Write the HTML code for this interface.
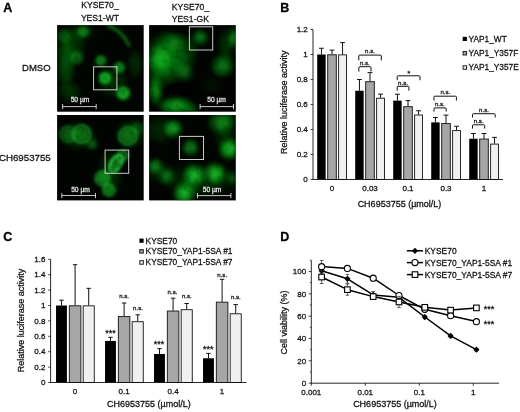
<!DOCTYPE html>
<html><head><meta charset="utf-8"><title>Figure</title>
<style>
html,body{margin:0;padding:0;background:#fff;}
svg{display:block;font-family:'Liberation Sans', Arial, sans-serif;}
</style></head><body>
<svg width="520" height="412" viewBox="0 0 520 412">
<rect width="520" height="412" fill="#fff"/>
<text x="3.20" y="11.50" font-size="12.5" text-anchor="start" font-weight="bold" fill="#000" stroke="#000" stroke-width="0.3" >A</text>
<text x="280.20" y="11.50" font-size="12.5" text-anchor="start" font-weight="bold" fill="#000" stroke="#000" stroke-width="0.3" >B</text>
<text x="3.20" y="241.00" font-size="12.5" text-anchor="start" font-weight="bold" fill="#000" stroke="#000" stroke-width="0.3" >C</text>
<text x="280.20" y="240.80" font-size="12.5" text-anchor="start" font-weight="bold" fill="#000" stroke="#000" stroke-width="0.3" >D</text>
<text x="100.00" y="8.20" font-size="8.65" text-anchor="middle" font-weight="normal" fill="#111" stroke="#111" stroke-width="0.26" >KYSE70_</text>
<text x="100.00" y="20.70" font-size="8.6" text-anchor="middle" font-weight="normal" fill="#111" stroke="#111" stroke-width="0.26" >YES1-WT</text>
<text x="190.50" y="9.60" font-size="8.65" text-anchor="middle" font-weight="normal" fill="#111" stroke="#111" stroke-width="0.26" >KYSE70_</text>
<text x="190.30" y="22.30" font-size="8.6" text-anchor="middle" font-weight="normal" fill="#111" stroke="#111" stroke-width="0.26" >YES1-GK</text>
<text x="50.60" y="71.40" font-size="9.5" text-anchor="end" font-weight="normal" fill="#111" stroke="#111" stroke-width="0.26" >DMSO</text>
<text x="50.70" y="160.80" font-size="9.7" text-anchor="end" font-weight="normal" fill="#111" stroke="#111" stroke-width="0.26" >CH6953755</text>
<defs>
<radialGradient id="gh"><stop offset="0" stop-color="#069410" stop-opacity="1"/><stop offset="0.5" stop-color="#048a0c" stop-opacity="0.7"/><stop offset="1" stop-color="#006c06" stop-opacity="0"/></radialGradient>
<radialGradient id="gc"><stop offset="0" stop-color="#12bc22" stop-opacity="0.95"/><stop offset="0.4" stop-color="#16c428" stop-opacity="1"/><stop offset="0.7" stop-color="#08a014" stop-opacity="0.7"/><stop offset="1" stop-color="#007a08" stop-opacity="0"/></radialGradient>
<radialGradient id="gs"><stop offset="0" stop-color="#1ccc30" stop-opacity="1"/><stop offset="0.35" stop-color="#12b822" stop-opacity="0.9"/><stop offset="0.7" stop-color="#08980f" stop-opacity="0.5"/><stop offset="1" stop-color="#007a08" stop-opacity="0"/></radialGradient>
<radialGradient id="gd"><stop offset="0" stop-color="#000" stop-opacity="1"/><stop offset="0.5" stop-color="#000" stop-opacity="0.8"/><stop offset="1" stop-color="#000" stop-opacity="0"/></radialGradient>
<filter id="bl" x="-20%" y="-20%" width="140%" height="140%"><feGaussianBlur stdDeviation="0.8"/></filter>
<filter id="tex" x="0" y="0" width="100%" height="100%"><feTurbulence type="fractalNoise" baseFrequency="0.16" numOctaves="2" seed="3" result="n"/><feColorMatrix in="n" type="matrix" values="0 0 0 0 1  0 0 0 0 1  0 0 0 0 1  0.7 0 0 0 0.65" result="m"/><feGaussianBlur in="SourceGraphic" stdDeviation="1.0" result="b"/><feComposite in="b" in2="m" operator="in"/></filter>
<clipPath id="cp1"><rect x="57.1" y="25.1" width="86.60" height="86.60"/></clipPath>
<clipPath id="cp2"><rect x="149.1" y="25.1" width="86.70" height="86.60"/></clipPath>
<clipPath id="cp3"><rect x="57.1" y="115.0" width="86.60" height="85.40"/></clipPath>
<clipPath id="cp4"><rect x="149.1" y="115.0" width="86.70" height="85.40"/></clipPath>
</defs>
<rect x="57.10" y="25.10" width="86.60" height="86.60" fill="#010401" stroke="none" stroke-width="0.7" />
<g clip-path="url(#cp1)">
<g filter="url(#tex)">
<ellipse cx="66" cy="60" rx="11.0" ry="36.0" fill="url(#gh)" opacity="0.55"/>
<ellipse cx="74" cy="45" rx="14.0" ry="18.0" fill="url(#gh)" opacity="0.3"/>
<ellipse cx="80" cy="33" rx="18.0" ry="10.0" fill="url(#gh)" opacity="0.3"/>
<ellipse cx="135" cy="64" rx="9.0" ry="17.0" fill="url(#gh)" opacity="0.3"/>
<ellipse cx="113" cy="82" rx="17.0" ry="19.0" fill="url(#gh)" opacity="0.3"/>
<ellipse cx="70" cy="92" rx="14.0" ry="12.0" fill="url(#gh)" opacity="0.3"/>
<ellipse cx="83.2" cy="31.5" rx="7.8" ry="7.2" fill="url(#gc)" opacity="0.5"/>
<ellipse cx="63.5" cy="36" rx="8.4" ry="8.4" fill="url(#gc)" opacity="0.3"/>
<ellipse cx="76.5" cy="57.5" rx="9.0" ry="9.0" fill="url(#gc)" opacity="0.42"/>
<ellipse cx="100.8" cy="60.6" rx="7.4" ry="7.2" fill="url(#gc)" opacity="0.62"/>
<ellipse cx="105" cy="78" rx="8.6" ry="8.6" fill="url(#gc)" opacity="0.75"/>
<ellipse cx="119.4" cy="67.5" rx="7.6" ry="7.6" fill="url(#gc)" opacity="0.62"/>
<ellipse cx="123.2" cy="93.2" rx="9.1" ry="9.1" fill="url(#gc)" opacity="0.78"/>
<ellipse cx="105" cy="78" rx="4.6" ry="4.6" fill="none" stroke="#38e050" stroke-width="1.5" opacity="0.3"/>
<ellipse cx="123.2" cy="93.2" rx="5.0" ry="5.0" fill="none" stroke="#38e050" stroke-width="1.5" opacity="0.25"/>
<path d="M109,26 Q122,31 129,45" stroke="#0c9c1c" stroke-width="3.6" stroke-linecap="round" fill="none" opacity="0.6" filter="url(#bl)"/>
</g>
<rect x="93.60" y="66.80" width="23.30" height="23.00" fill="none" stroke="#cacaca" stroke-width="1.0" />
<line x1="62.60" y1="106.60" x2="96.20" y2="106.60" stroke="#dcdcdc" stroke-width="0.9" />
<line x1="62.60" y1="104.00" x2="62.60" y2="109.20" stroke="#dcdcdc" stroke-width="0.9" />
<line x1="96.20" y1="104.00" x2="96.20" y2="109.20" stroke="#dcdcdc" stroke-width="0.9" />
<text x="80.00" y="102.10" font-size="6.7" text-anchor="middle" font-weight="normal" fill="#e4e4e4" stroke="#e4e4e4" stroke-width="0.26" >50 µm</text>
</g>
<rect x="149.10" y="25.10" width="86.70" height="86.60" fill="#010401" stroke="none" stroke-width="0.7" />
<g clip-path="url(#cp2)">
<g filter="url(#tex)">
<ellipse cx="165" cy="60" rx="22.0" ry="30.0" fill="url(#gh)" opacity="0.85"/>
<ellipse cx="180" cy="62" rx="12.0" ry="14.0" fill="url(#gh)" opacity="0.4"/>
<ellipse cx="172" cy="40" rx="16.0" ry="10.0" fill="url(#gh)" opacity="0.4"/>
<ellipse cx="226" cy="46" rx="10.0" ry="20.0" fill="url(#gh)" opacity="0.3"/>
<ellipse cx="186" cy="52" rx="14.0" ry="20.0" fill="url(#gh)" opacity="0.4"/>
<ellipse cx="155.5" cy="88" rx="8.0" ry="20.0" fill="url(#gh)" opacity="0.7"/>
<ellipse cx="176" cy="106" rx="21.0" ry="10.0" fill="url(#gh)" opacity="0.75"/>
<ellipse cx="222" cy="66" rx="14.0" ry="13.0" fill="url(#gh)" opacity="0.35"/>
<ellipse cx="200" cy="38" rx="12.0" ry="10.0" fill="url(#gh)" opacity="0.25"/>
<ellipse cx="212" cy="85" rx="12.0" ry="10.0" fill="url(#gh)" opacity="0.1"/>
<ellipse cx="161" cy="59" rx="14.9" ry="17.6" fill="url(#gs)" opacity="0.7"/>
<ellipse cx="175" cy="45" rx="12.2" ry="12.2" fill="url(#gs)" opacity="0.4"/>
<ellipse cx="184" cy="72" rx="11.5" ry="10.8" fill="url(#gs)" opacity="0.45"/>
<ellipse cx="176" cy="105" rx="17.6" ry="10.1" fill="url(#gs)" opacity="0.45"/>
<ellipse cx="156" cy="92" rx="8.8" ry="13.5" fill="url(#gs)" opacity="0.3"/>
<ellipse cx="200.3" cy="37.3" rx="8.8" ry="8.8" fill="url(#gs)" opacity="0.45"/>
<ellipse cx="223" cy="66" rx="12.8" ry="12.8" fill="url(#gs)" opacity="0.4"/>
<ellipse cx="233.5" cy="38" rx="8.1" ry="12.2" fill="url(#gs)" opacity="0.5"/>
<ellipse cx="191" cy="109" rx="9.5" ry="6.8" fill="url(#gs)" opacity="0.3"/>
<ellipse cx="176" cy="88" rx="13.0" ry="8.0" fill="url(#gd)" opacity="0.85"/>
<ellipse cx="186" cy="90" rx="10.0" ry="9.0" fill="url(#gd)" opacity="0.8"/>
<ellipse cx="160" cy="28" rx="14.0" ry="5.0" fill="url(#gd)" opacity="0.6"/>
</g>
<rect x="189.40" y="26.80" width="23.30" height="23.20" fill="none" stroke="#cacaca" stroke-width="1.0" />
<line x1="200.10" y1="106.60" x2="233.50" y2="106.60" stroke="#dcdcdc" stroke-width="0.9" />
<line x1="200.10" y1="104.00" x2="200.10" y2="109.20" stroke="#dcdcdc" stroke-width="0.9" />
<line x1="233.50" y1="104.00" x2="233.50" y2="109.20" stroke="#dcdcdc" stroke-width="0.9" />
<text x="216.60" y="102.10" font-size="6.7" text-anchor="middle" font-weight="normal" fill="#e4e4e4" stroke="#e4e4e4" stroke-width="0.26" >50 µm</text>
</g>
<rect x="57.10" y="115.00" width="86.60" height="85.40" fill="#010401" stroke="none" stroke-width="0.7" />
<g clip-path="url(#cp3)">
<g filter="url(#tex)">
<ellipse cx="78" cy="136" rx="21.0" ry="16.0" fill="url(#gh)" opacity="0.38"/>
<ellipse cx="130" cy="134" rx="17.0" ry="16.0" fill="url(#gh)" opacity="0.38"/>
<ellipse cx="110" cy="173" rx="14.0" ry="25.0" fill="url(#gh)" opacity="0.35"/>
<ellipse cx="68" cy="134" rx="10.8" ry="10.8" fill="url(#gc)" opacity="0.35"/>
<ellipse cx="81.5" cy="134" rx="12.0" ry="12.0" fill="url(#gc)" opacity="0.42"/>
<ellipse cx="92" cy="144" rx="7.2" ry="7.2" fill="url(#gc)" opacity="0.35"/>
<ellipse cx="128" cy="136" rx="12.6" ry="12.6" fill="url(#gc)" opacity="0.42"/>
<ellipse cx="138" cy="128" rx="8.4" ry="8.4" fill="url(#gc)" opacity="0.3"/>
<ellipse cx="116" cy="163" rx="9.0" ry="13.2" transform="rotate(30 116 163)" fill="url(#gc)" opacity="0.6"/>
<ellipse cx="124" cy="155" rx="7.2" ry="7.2" fill="url(#gc)" opacity="0.4"/>
<ellipse cx="102.5" cy="178.3" rx="10.2" ry="10.2" fill="url(#gc)" opacity="0.62"/>
<ellipse cx="109" cy="190" rx="9.0" ry="9.0" fill="url(#gc)" opacity="0.55"/>
<ellipse cx="68" cy="134" rx="8.0" ry="8.0" fill="none" stroke="#38e050" stroke-width="1.5" opacity="0.25"/>
<ellipse cx="81.5" cy="134" rx="9.0" ry="9.0" fill="none" stroke="#38e050" stroke-width="1.5" opacity="0.4"/>
<ellipse cx="128" cy="136" rx="9.0" ry="9.0" fill="none" stroke="#38e050" stroke-width="1.5" opacity="0.35"/>
<ellipse cx="116" cy="163.5" rx="5.2" ry="9.5" transform="rotate(32 116 163.5)" fill="none" stroke="#38e050" stroke-width="1.5" opacity="0.85"/>
<ellipse cx="102.5" cy="178.3" rx="7.0" ry="7.0" fill="none" stroke="#38e050" stroke-width="1.5" opacity="0.35"/>
<ellipse cx="109" cy="190" rx="6.0" ry="6.0" fill="none" stroke="#38e050" stroke-width="1.5" opacity="0.3"/>
<ellipse cx="122" cy="156" rx="5.0" ry="6.0" transform="rotate(30 122 156)" fill="none" stroke="#38e050" stroke-width="1.5" opacity="0.4"/>
</g>
<rect x="105.10" y="150.10" width="23.60" height="23.20" fill="none" stroke="#cacaca" stroke-width="1.0" />
<line x1="61.80" y1="195.50" x2="95.50" y2="195.50" stroke="#dcdcdc" stroke-width="0.9" />
<line x1="61.80" y1="192.90" x2="61.80" y2="198.10" stroke="#dcdcdc" stroke-width="0.9" />
<line x1="95.50" y1="192.90" x2="95.50" y2="198.10" stroke="#dcdcdc" stroke-width="0.9" />
<text x="80.50" y="191.60" font-size="6.7" text-anchor="middle" font-weight="normal" fill="#e4e4e4" stroke="#e4e4e4" stroke-width="0.26" >50 µm</text>
</g>
<rect x="149.10" y="115.00" width="86.70" height="85.40" fill="#010401" stroke="none" stroke-width="0.7" />
<g clip-path="url(#cp4)">
<g filter="url(#tex)">
<ellipse cx="160" cy="130" rx="17.0" ry="17.0" fill="url(#gh)" opacity="0.25"/>
<ellipse cx="200" cy="180" rx="42.0" ry="19.0" fill="url(#gh)" opacity="0.32"/>
<ellipse cx="225" cy="135" rx="12.0" ry="27.0" fill="url(#gh)" opacity="0.28"/>
<ellipse cx="160" cy="172" rx="15.0" ry="13.0" fill="url(#gh)" opacity="0.25"/>
<ellipse cx="190" cy="185" rx="10.0" ry="12.0" fill="url(#gh)" opacity="0.4"/>
<ellipse cx="228" cy="120" rx="10.0" ry="10.0" fill="url(#gh)" opacity="0.3"/>
<ellipse cx="173" cy="128.6" rx="11.5" ry="10.8" fill="url(#gs)" opacity="0.75"/>
<ellipse cx="190.5" cy="147.5" rx="10.1" ry="10.1" fill="url(#gs)" opacity="0.62"/>
<ellipse cx="220.5" cy="122.5" rx="14.9" ry="13.5" fill="url(#gs)" opacity="0.55"/>
<ellipse cx="229.6" cy="149" rx="12.2" ry="12.8" fill="url(#gs)" opacity="0.85"/>
<ellipse cx="155.2" cy="166.1" rx="9.5" ry="9.5" fill="url(#gs)" opacity="0.55"/>
<ellipse cx="166.8" cy="176.4" rx="10.1" ry="10.1" fill="url(#gs)" opacity="0.45"/>
<ellipse cx="194.2" cy="175.3" rx="12.8" ry="12.8" fill="url(#gs)" opacity="0.85"/>
<ellipse cx="215" cy="173.6" rx="12.8" ry="12.8" fill="url(#gs)" opacity="0.85"/>
<ellipse cx="184.2" cy="193.4" rx="12.8" ry="12.8" fill="url(#gs)" opacity="0.85"/>
<ellipse cx="232" cy="178" rx="8.8" ry="8.8" fill="url(#gs)" opacity="0.3"/>
</g>
<rect x="179.40" y="136.40" width="24.10" height="23.10" fill="none" stroke="#cacaca" stroke-width="1.0" />
<line x1="197.50" y1="195.60" x2="230.90" y2="195.60" stroke="#dcdcdc" stroke-width="0.9" />
<line x1="197.50" y1="193.00" x2="197.50" y2="198.20" stroke="#dcdcdc" stroke-width="0.9" />
<line x1="230.90" y1="193.00" x2="230.90" y2="198.20" stroke="#dcdcdc" stroke-width="0.9" />
<text x="212.10" y="191.60" font-size="6.7" text-anchor="middle" font-weight="normal" fill="#e4e4e4" stroke="#e4e4e4" stroke-width="0.26" >50 µm</text>
</g>
<line x1="321.44" y1="54.50" x2="321.44" y2="48.25" stroke="#111" stroke-width="1.0" />
<line x1="319.04" y1="48.25" x2="323.84" y2="48.25" stroke="#111" stroke-width="1.0" />
<rect x="317.22" y="54.50" width="8.44" height="125.00" fill="#000" stroke="none" stroke-width="0.7" />
<line x1="332.00" y1="54.50" x2="332.00" y2="50.12" stroke="#111" stroke-width="1.0" />
<line x1="329.60" y1="50.12" x2="334.40" y2="50.12" stroke="#111" stroke-width="1.0" />
<rect x="327.68" y="54.80" width="8.64" height="124.70" fill="#a6a6a6" stroke="#222" stroke-width="1.0" />
<line x1="342.56" y1="54.50" x2="342.56" y2="42.62" stroke="#111" stroke-width="1.0" />
<line x1="340.16" y1="42.62" x2="344.96" y2="42.62" stroke="#111" stroke-width="1.0" />
<rect x="338.63" y="54.85" width="7.84" height="124.65" fill="#f0f0f0" stroke="#111" stroke-width="0.9" />
<line x1="359.44" y1="90.75" x2="359.44" y2="79.50" stroke="#111" stroke-width="1.0" />
<line x1="357.04" y1="79.50" x2="361.84" y2="79.50" stroke="#111" stroke-width="1.0" />
<rect x="355.22" y="90.75" width="8.44" height="88.75" fill="#000" stroke="none" stroke-width="0.7" />
<line x1="370.00" y1="81.38" x2="370.00" y2="72.62" stroke="#111" stroke-width="1.0" />
<line x1="367.60" y1="72.62" x2="372.40" y2="72.62" stroke="#111" stroke-width="1.0" />
<rect x="365.68" y="81.67" width="8.64" height="97.83" fill="#a6a6a6" stroke="#222" stroke-width="1.0" />
<line x1="380.56" y1="97.88" x2="380.56" y2="94.12" stroke="#111" stroke-width="1.0" />
<line x1="378.16" y1="94.12" x2="382.96" y2="94.12" stroke="#111" stroke-width="1.0" />
<rect x="376.63" y="98.22" width="7.84" height="81.28" fill="#f0f0f0" stroke="#111" stroke-width="0.9" />
<line x1="397.44" y1="100.62" x2="397.44" y2="94.25" stroke="#111" stroke-width="1.0" />
<line x1="395.04" y1="94.25" x2="399.84" y2="94.25" stroke="#111" stroke-width="1.0" />
<rect x="393.22" y="100.62" width="8.44" height="78.88" fill="#000" stroke="none" stroke-width="0.7" />
<line x1="408.00" y1="106.38" x2="408.00" y2="100.62" stroke="#111" stroke-width="1.0" />
<line x1="405.60" y1="100.62" x2="410.40" y2="100.62" stroke="#111" stroke-width="1.0" />
<rect x="403.68" y="106.67" width="8.64" height="72.83" fill="#a6a6a6" stroke="#222" stroke-width="1.0" />
<line x1="418.56" y1="114.62" x2="418.56" y2="110.75" stroke="#111" stroke-width="1.0" />
<line x1="416.16" y1="110.75" x2="420.96" y2="110.75" stroke="#111" stroke-width="1.0" />
<rect x="414.63" y="114.97" width="7.84" height="64.53" fill="#f0f0f0" stroke="#111" stroke-width="0.9" />
<line x1="435.44" y1="122.38" x2="435.44" y2="117.50" stroke="#111" stroke-width="1.0" />
<line x1="433.04" y1="117.50" x2="437.84" y2="117.50" stroke="#111" stroke-width="1.0" />
<rect x="431.22" y="122.38" width="8.44" height="57.12" fill="#000" stroke="none" stroke-width="0.7" />
<line x1="446.00" y1="123.25" x2="446.00" y2="115.12" stroke="#111" stroke-width="1.0" />
<line x1="443.60" y1="115.12" x2="448.40" y2="115.12" stroke="#111" stroke-width="1.0" />
<rect x="441.68" y="123.55" width="8.64" height="55.95" fill="#a6a6a6" stroke="#222" stroke-width="1.0" />
<line x1="456.56" y1="130.25" x2="456.56" y2="126.25" stroke="#111" stroke-width="1.0" />
<line x1="454.16" y1="126.25" x2="458.96" y2="126.25" stroke="#111" stroke-width="1.0" />
<rect x="452.63" y="130.60" width="7.84" height="48.90" fill="#f0f0f0" stroke="#111" stroke-width="0.9" />
<line x1="473.44" y1="138.75" x2="473.44" y2="133.50" stroke="#111" stroke-width="1.0" />
<line x1="471.04" y1="133.50" x2="475.84" y2="133.50" stroke="#111" stroke-width="1.0" />
<rect x="469.22" y="138.75" width="8.44" height="40.75" fill="#000" stroke="none" stroke-width="0.7" />
<line x1="484.00" y1="138.75" x2="484.00" y2="133.50" stroke="#111" stroke-width="1.0" />
<line x1="481.60" y1="133.50" x2="486.40" y2="133.50" stroke="#111" stroke-width="1.0" />
<rect x="479.68" y="139.05" width="8.64" height="40.45" fill="#a6a6a6" stroke="#222" stroke-width="1.0" />
<line x1="494.56" y1="143.75" x2="494.56" y2="137.38" stroke="#111" stroke-width="1.0" />
<line x1="492.16" y1="137.38" x2="496.96" y2="137.38" stroke="#111" stroke-width="1.0" />
<rect x="490.63" y="144.10" width="7.84" height="35.40" fill="#f0f0f0" stroke="#111" stroke-width="0.9" />
<line x1="313.00" y1="29.50" x2="313.00" y2="179.50" stroke="#111" stroke-width="0.9" />
<line x1="312.60" y1="179.50" x2="503.00" y2="179.50" stroke="#111" stroke-width="0.9" />
<line x1="310.60" y1="179.50" x2="313.00" y2="179.50" stroke="#111" stroke-width="0.8" />
<text x="307.80" y="182.20" font-size="8.0" text-anchor="end" font-weight="normal" fill="#111" stroke="#111" stroke-width="0.26" >0</text>
<line x1="310.60" y1="154.50" x2="313.00" y2="154.50" stroke="#111" stroke-width="0.8" />
<text x="307.80" y="157.20" font-size="8.0" text-anchor="end" font-weight="normal" fill="#111" stroke="#111" stroke-width="0.26" >0.2</text>
<line x1="310.60" y1="129.50" x2="313.00" y2="129.50" stroke="#111" stroke-width="0.8" />
<text x="307.80" y="132.20" font-size="8.0" text-anchor="end" font-weight="normal" fill="#111" stroke="#111" stroke-width="0.26" >0.4</text>
<line x1="310.60" y1="104.50" x2="313.00" y2="104.50" stroke="#111" stroke-width="0.8" />
<text x="307.80" y="107.20" font-size="8.0" text-anchor="end" font-weight="normal" fill="#111" stroke="#111" stroke-width="0.26" >0.6</text>
<line x1="310.60" y1="79.50" x2="313.00" y2="79.50" stroke="#111" stroke-width="0.8" />
<text x="307.80" y="82.20" font-size="8.0" text-anchor="end" font-weight="normal" fill="#111" stroke="#111" stroke-width="0.26" >0.8</text>
<line x1="310.60" y1="54.50" x2="313.00" y2="54.50" stroke="#111" stroke-width="0.8" />
<text x="307.80" y="57.20" font-size="8.0" text-anchor="end" font-weight="normal" fill="#111" stroke="#111" stroke-width="0.26" >1</text>
<line x1="310.60" y1="29.50" x2="313.00" y2="29.50" stroke="#111" stroke-width="0.8" />
<text x="307.80" y="32.20" font-size="8.0" text-anchor="end" font-weight="normal" fill="#111" stroke="#111" stroke-width="0.26" >1.2</text>
<text x="332.00" y="191.20" font-size="8.0" text-anchor="middle" font-weight="normal" fill="#111" stroke="#111" stroke-width="0.26" >0</text>
<text x="370.00" y="191.20" font-size="8.0" text-anchor="middle" font-weight="normal" fill="#111" stroke="#111" stroke-width="0.26" >0.03</text>
<text x="408.00" y="191.20" font-size="8.0" text-anchor="middle" font-weight="normal" fill="#111" stroke="#111" stroke-width="0.26" >0.1</text>
<text x="446.00" y="191.20" font-size="8.0" text-anchor="middle" font-weight="normal" fill="#111" stroke="#111" stroke-width="0.26" >0.3</text>
<text x="484.00" y="191.20" font-size="8.0" text-anchor="middle" font-weight="normal" fill="#111" stroke="#111" stroke-width="0.26" >1</text>
<path d="M358.80,60.30 V55.90 Q358.80,55.10 359.60,55.10 H380.50 Q381.30,55.10 381.30,55.90 V60.30" fill="none" stroke="#111" stroke-width="1.0"/>
<text x="370.00" y="53.30" font-size="6.1" text-anchor="middle" font-weight="normal" fill="#111" stroke="#111" stroke-width="0.26" >n.s.</text>
<path d="M358.80,71.60 V67.50 Q358.80,66.70 359.60,66.70 H370.20 Q371.00,66.70 371.00,67.50 V71.60" fill="none" stroke="#111" stroke-width="1.0"/>
<text x="364.80" y="64.80" font-size="6.1" text-anchor="middle" font-weight="normal" fill="#111" stroke="#111" stroke-width="0.26" >n.s.</text>
<path d="M397.20,80.20 V76.60 Q397.20,75.80 398.00,75.80 H419.20 Q420.00,75.80 420.00,76.60 V80.20" fill="none" stroke="#111" stroke-width="1.0"/>
<text x="408.90" y="75.50" font-size="8" text-anchor="middle" font-weight="normal" fill="#111" stroke="#111" stroke-width="0.26" >*</text>
<path d="M397.20,90.70 V87.10 Q397.20,86.30 398.00,86.30 H408.10 Q408.90,86.30 408.90,87.10 V90.70" fill="none" stroke="#111" stroke-width="1.0"/>
<text x="403.00" y="84.60" font-size="6.1" text-anchor="middle" font-weight="normal" fill="#111" stroke="#111" stroke-width="0.26" >n.s.</text>
<path d="M434.00,100.60 V97.00 Q434.00,96.20 434.80,96.20 H455.60 Q456.40,96.20 456.40,97.00 V100.60" fill="none" stroke="#111" stroke-width="1.0"/>
<text x="445.30" y="94.30" font-size="6.1" text-anchor="middle" font-weight="normal" fill="#111" stroke="#111" stroke-width="0.26" >n.s.</text>
<path d="M434.00,111.60 V108.70 Q434.00,107.90 434.80,107.90 H445.40 Q446.20,107.90 446.20,108.70 V111.60" fill="none" stroke="#111" stroke-width="1.0"/>
<text x="439.90" y="105.80" font-size="6.1" text-anchor="middle" font-weight="normal" fill="#111" stroke="#111" stroke-width="0.26" >n.s.</text>
<path d="M472.50,117.50 V114.50 Q472.50,113.70 473.30,113.70 H494.40 Q495.20,113.70 495.20,114.50 V117.50" fill="none" stroke="#111" stroke-width="1.0"/>
<text x="484.00" y="111.70" font-size="6.1" text-anchor="middle" font-weight="normal" fill="#111" stroke="#111" stroke-width="0.26" >n.s.</text>
<path d="M472.50,128.60 V125.60 Q472.50,124.80 473.30,124.80 H483.90 Q484.70,124.80 484.70,125.60 V128.60" fill="none" stroke="#111" stroke-width="1.0"/>
<text x="478.70" y="122.80" font-size="6.1" text-anchor="middle" font-weight="normal" fill="#111" stroke="#111" stroke-width="0.26" >n.s.</text>
<rect x="462.70" y="36.80" width="4.20" height="4.20" fill="#000" stroke="none" stroke-width="0.7" />
<text x="468.60" y="41.80" font-size="8.3" text-anchor="start" font-weight="normal" fill="#111" stroke="#111" stroke-width="0.26" >YAP1_WT</text>
<rect x="463.10" y="51.50" width="3.50" height="3.50" fill="#a6a6a6" stroke="#222" stroke-width="1.0" />
<text x="468.60" y="56.10" font-size="8.3" text-anchor="start" font-weight="normal" fill="#111" stroke="#111" stroke-width="0.26" >YAP1_Y357F</text>
<rect x="463.10" y="65.80" width="3.50" height="3.50" fill="#f0f0f0" stroke="#222" stroke-width="1.0" />
<text x="468.60" y="70.40" font-size="8.3" text-anchor="start" font-weight="normal" fill="#111" stroke="#111" stroke-width="0.26" >YAP1_Y357E</text>
<text x="0.00" y="0.00" font-size="9.0" text-anchor="middle" font-weight="normal" fill="#111" stroke="#111" stroke-width="0.26" transform="translate(287.3,102.2) rotate(-90)">Relative luciferase activity</text>
<text x="399.50" y="206.70" font-size="9.0" text-anchor="middle" font-weight="normal" fill="#111" stroke="#111" stroke-width="0.26" >CH6953755 (µmol/L)</text>
<line x1="61.49" y1="305.50" x2="61.49" y2="300.19" stroke="#111" stroke-width="1.0" />
<line x1="59.29" y1="300.19" x2="63.69" y2="300.19" stroke="#111" stroke-width="1.0" />
<rect x="56.04" y="305.50" width="10.89" height="77.00" fill="#000" stroke="none" stroke-width="0.7" />
<line x1="75.10" y1="305.50" x2="75.10" y2="264.69" stroke="#111" stroke-width="1.0" />
<line x1="72.90" y1="264.69" x2="77.30" y2="264.69" stroke="#111" stroke-width="1.0" />
<rect x="69.36" y="305.80" width="11.49" height="76.70" fill="#a6a6a6" stroke="#222" stroke-width="1.0" />
<line x1="88.71" y1="305.50" x2="88.71" y2="288.33" stroke="#111" stroke-width="1.0" />
<line x1="86.51" y1="288.33" x2="90.91" y2="288.33" stroke="#111" stroke-width="1.0" />
<rect x="83.17" y="305.85" width="11.09" height="76.65" fill="#f0f0f0" stroke="#111" stroke-width="0.9" />
<line x1="110.49" y1="340.92" x2="110.49" y2="337.30" stroke="#111" stroke-width="1.0" />
<line x1="108.29" y1="337.30" x2="112.69" y2="337.30" stroke="#111" stroke-width="1.0" />
<rect x="105.04" y="340.92" width="10.89" height="41.58" fill="#000" stroke="none" stroke-width="0.7" />
<line x1="124.10" y1="316.28" x2="124.10" y2="303.04" stroke="#111" stroke-width="1.0" />
<line x1="121.90" y1="303.04" x2="126.30" y2="303.04" stroke="#111" stroke-width="1.0" />
<rect x="118.36" y="316.58" width="11.49" height="65.92" fill="#a6a6a6" stroke="#222" stroke-width="1.0" />
<line x1="137.71" y1="321.36" x2="137.71" y2="314.82" stroke="#111" stroke-width="1.0" />
<line x1="135.51" y1="314.82" x2="139.91" y2="314.82" stroke="#111" stroke-width="1.0" />
<rect x="132.17" y="321.71" width="11.09" height="60.79" fill="#f0f0f0" stroke="#111" stroke-width="0.9" />
<line x1="159.49" y1="354.01" x2="159.49" y2="348.62" stroke="#111" stroke-width="1.0" />
<line x1="157.29" y1="348.62" x2="161.69" y2="348.62" stroke="#111" stroke-width="1.0" />
<rect x="154.04" y="354.01" width="10.89" height="28.49" fill="#000" stroke="none" stroke-width="0.7" />
<line x1="173.10" y1="310.74" x2="173.10" y2="298.19" stroke="#111" stroke-width="1.0" />
<line x1="170.90" y1="298.19" x2="175.30" y2="298.19" stroke="#111" stroke-width="1.0" />
<rect x="167.36" y="311.04" width="11.49" height="71.46" fill="#a6a6a6" stroke="#222" stroke-width="1.0" />
<line x1="186.71" y1="309.35" x2="186.71" y2="303.50" stroke="#111" stroke-width="1.0" />
<line x1="184.51" y1="303.50" x2="188.91" y2="303.50" stroke="#111" stroke-width="1.0" />
<rect x="181.17" y="309.70" width="11.09" height="72.80" fill="#f0f0f0" stroke="#111" stroke-width="0.9" />
<line x1="208.49" y1="358.25" x2="208.49" y2="353.39" stroke="#111" stroke-width="1.0" />
<line x1="206.29" y1="353.39" x2="210.69" y2="353.39" stroke="#111" stroke-width="1.0" />
<rect x="203.04" y="358.25" width="10.89" height="24.25" fill="#000" stroke="none" stroke-width="0.7" />
<line x1="222.10" y1="301.88" x2="222.10" y2="279.32" stroke="#111" stroke-width="1.0" />
<line x1="219.90" y1="279.32" x2="224.30" y2="279.32" stroke="#111" stroke-width="1.0" />
<rect x="216.36" y="302.18" width="11.49" height="80.32" fill="#a6a6a6" stroke="#222" stroke-width="1.0" />
<line x1="235.71" y1="313.43" x2="235.71" y2="304.58" stroke="#111" stroke-width="1.0" />
<line x1="233.51" y1="304.58" x2="237.91" y2="304.58" stroke="#111" stroke-width="1.0" />
<rect x="230.17" y="313.78" width="11.09" height="68.72" fill="#f0f0f0" stroke="#111" stroke-width="0.9" />
<line x1="50.60" y1="259.30" x2="50.60" y2="382.50" stroke="#111" stroke-width="0.9" />
<line x1="50.20" y1="382.50" x2="246.60" y2="382.50" stroke="#111" stroke-width="0.9" />
<line x1="48.20" y1="382.50" x2="50.60" y2="382.50" stroke="#111" stroke-width="0.8" />
<text x="45.40" y="385.20" font-size="8.0" text-anchor="end" font-weight="normal" fill="#111" stroke="#111" stroke-width="0.26" >0</text>
<line x1="48.20" y1="367.10" x2="50.60" y2="367.10" stroke="#111" stroke-width="0.8" />
<text x="45.40" y="369.80" font-size="8.0" text-anchor="end" font-weight="normal" fill="#111" stroke="#111" stroke-width="0.26" >0.2</text>
<line x1="48.20" y1="351.70" x2="50.60" y2="351.70" stroke="#111" stroke-width="0.8" />
<text x="45.40" y="354.40" font-size="8.0" text-anchor="end" font-weight="normal" fill="#111" stroke="#111" stroke-width="0.26" >0.4</text>
<line x1="48.20" y1="336.30" x2="50.60" y2="336.30" stroke="#111" stroke-width="0.8" />
<text x="45.40" y="339.00" font-size="8.0" text-anchor="end" font-weight="normal" fill="#111" stroke="#111" stroke-width="0.26" >0.6</text>
<line x1="48.20" y1="320.90" x2="50.60" y2="320.90" stroke="#111" stroke-width="0.8" />
<text x="45.40" y="323.60" font-size="8.0" text-anchor="end" font-weight="normal" fill="#111" stroke="#111" stroke-width="0.26" >0.8</text>
<line x1="48.20" y1="305.50" x2="50.60" y2="305.50" stroke="#111" stroke-width="0.8" />
<text x="45.40" y="308.20" font-size="8.0" text-anchor="end" font-weight="normal" fill="#111" stroke="#111" stroke-width="0.26" >1</text>
<line x1="48.20" y1="290.10" x2="50.60" y2="290.10" stroke="#111" stroke-width="0.8" />
<text x="45.40" y="292.80" font-size="8.0" text-anchor="end" font-weight="normal" fill="#111" stroke="#111" stroke-width="0.26" >1.2</text>
<line x1="48.20" y1="274.70" x2="50.60" y2="274.70" stroke="#111" stroke-width="0.8" />
<text x="45.40" y="277.40" font-size="8.0" text-anchor="end" font-weight="normal" fill="#111" stroke="#111" stroke-width="0.26" >1.4</text>
<line x1="48.20" y1="259.30" x2="50.60" y2="259.30" stroke="#111" stroke-width="0.8" />
<text x="45.40" y="262.00" font-size="8.0" text-anchor="end" font-weight="normal" fill="#111" stroke="#111" stroke-width="0.26" >1.6</text>
<text x="75.10" y="393.80" font-size="8.0" text-anchor="middle" font-weight="normal" fill="#111" stroke="#111" stroke-width="0.26" >0</text>
<text x="124.10" y="393.80" font-size="8.0" text-anchor="middle" font-weight="normal" fill="#111" stroke="#111" stroke-width="0.26" >0.1</text>
<text x="173.10" y="393.80" font-size="8.0" text-anchor="middle" font-weight="normal" fill="#111" stroke="#111" stroke-width="0.26" >0.4</text>
<text x="222.10" y="393.80" font-size="8.0" text-anchor="middle" font-weight="normal" fill="#111" stroke="#111" stroke-width="0.26" >1</text>
<text x="124.10" y="297.50" font-size="6.1" text-anchor="middle" font-weight="normal" fill="#111" stroke="#111" stroke-width="0.26" >n.s.</text>
<text x="138.00" y="310.10" font-size="6.1" text-anchor="middle" font-weight="normal" fill="#111" stroke="#111" stroke-width="0.26" >n.s.</text>
<text x="172.50" y="293.90" font-size="6.1" text-anchor="middle" font-weight="normal" fill="#111" stroke="#111" stroke-width="0.26" >n.s.</text>
<text x="186.90" y="298.20" font-size="6.1" text-anchor="middle" font-weight="normal" fill="#111" stroke="#111" stroke-width="0.26" >n.s.</text>
<text x="222.20" y="277.30" font-size="6.1" text-anchor="middle" font-weight="normal" fill="#111" stroke="#111" stroke-width="0.26" >n.s.</text>
<text x="235.80" y="299.20" font-size="6.1" text-anchor="middle" font-weight="normal" fill="#111" stroke="#111" stroke-width="0.26" >n.s.</text>
<text x="110.60" y="335.50" font-size="9" text-anchor="middle" font-weight="normal" fill="#111" stroke="#111" stroke-width="0.26" >***</text>
<text x="158.90" y="347.00" font-size="9" text-anchor="middle" font-weight="normal" fill="#111" stroke="#111" stroke-width="0.26" >***</text>
<text x="208.30" y="351.50" font-size="9" text-anchor="middle" font-weight="normal" fill="#111" stroke="#111" stroke-width="0.26" >***</text>
<rect x="139.40" y="238.60" width="4.20" height="4.20" fill="#000" stroke="none" stroke-width="0.7" />
<text x="145.60" y="243.60" font-size="8.4" text-anchor="start" font-weight="normal" fill="#111" stroke="#111" stroke-width="0.26" >KYSE70</text>
<rect x="139.80" y="249.60" width="3.50" height="3.50" fill="#a6a6a6" stroke="#222" stroke-width="1.0" />
<text x="145.60" y="254.20" font-size="8.4" text-anchor="start" font-weight="normal" fill="#111" stroke="#111" stroke-width="0.26" >KYSE70_YAP1-5SA #1</text>
<rect x="139.80" y="260.70" width="3.50" height="3.50" fill="#f0f0f0" stroke="#222" stroke-width="1.0" />
<text x="145.60" y="265.30" font-size="8.4" text-anchor="start" font-weight="normal" fill="#111" stroke="#111" stroke-width="0.26" >KYSE70_YAP1-5SA #7</text>
<text x="0.00" y="0.00" font-size="9.0" text-anchor="middle" font-weight="normal" fill="#111" stroke="#111" stroke-width="0.26" transform="translate(24.3,320.5) rotate(-90)">Relative luciferase activity</text>
<text x="148.90" y="406.70" font-size="9.0" text-anchor="middle" font-weight="normal" fill="#111" stroke="#111" stroke-width="0.26" >CH6953755 (µmol/L)</text>
<line x1="311.30" y1="260.27" x2="311.30" y2="383.20" stroke="#111" stroke-width="0.9" />
<line x1="310.90" y1="383.20" x2="499.00" y2="383.20" stroke="#111" stroke-width="0.9" />
<line x1="308.70" y1="383.20" x2="311.30" y2="383.20" stroke="#111" stroke-width="0.8" />
<text x="306.10" y="385.90" font-size="8.0" text-anchor="end" font-weight="normal" fill="#111" stroke="#111" stroke-width="0.26" >0</text>
<line x1="309.80" y1="372.02" x2="311.30" y2="372.02" stroke="#111" stroke-width="0.7" />
<line x1="308.70" y1="360.85" x2="311.30" y2="360.85" stroke="#111" stroke-width="0.8" />
<text x="306.10" y="363.55" font-size="8.0" text-anchor="end" font-weight="normal" fill="#111" stroke="#111" stroke-width="0.26" >20</text>
<line x1="309.80" y1="349.68" x2="311.30" y2="349.68" stroke="#111" stroke-width="0.7" />
<line x1="308.70" y1="338.50" x2="311.30" y2="338.50" stroke="#111" stroke-width="0.8" />
<text x="306.10" y="341.20" font-size="8.0" text-anchor="end" font-weight="normal" fill="#111" stroke="#111" stroke-width="0.26" >40</text>
<line x1="309.80" y1="327.32" x2="311.30" y2="327.32" stroke="#111" stroke-width="0.7" />
<line x1="308.70" y1="316.15" x2="311.30" y2="316.15" stroke="#111" stroke-width="0.8" />
<text x="306.10" y="318.85" font-size="8.0" text-anchor="end" font-weight="normal" fill="#111" stroke="#111" stroke-width="0.26" >60</text>
<line x1="309.80" y1="304.98" x2="311.30" y2="304.98" stroke="#111" stroke-width="0.7" />
<line x1="308.70" y1="293.80" x2="311.30" y2="293.80" stroke="#111" stroke-width="0.8" />
<text x="306.10" y="296.50" font-size="8.0" text-anchor="end" font-weight="normal" fill="#111" stroke="#111" stroke-width="0.26" >80</text>
<line x1="309.80" y1="282.62" x2="311.30" y2="282.62" stroke="#111" stroke-width="0.7" />
<line x1="308.70" y1="271.45" x2="311.30" y2="271.45" stroke="#111" stroke-width="0.8" />
<text x="306.10" y="274.15" font-size="8.0" text-anchor="end" font-weight="normal" fill="#111" stroke="#111" stroke-width="0.26" >100</text>
<line x1="309.80" y1="260.27" x2="311.30" y2="260.27" stroke="#111" stroke-width="0.7" />
<line x1="311.30" y1="383.20" x2="311.30" y2="385.80" stroke="#111" stroke-width="0.8" />
<text x="311.30" y="395.40" font-size="8.0" text-anchor="middle" font-weight="normal" fill="#111" stroke="#111" stroke-width="0.26" >0.001</text>
<line x1="365.30" y1="383.20" x2="365.30" y2="385.80" stroke="#111" stroke-width="0.8" />
<text x="365.30" y="395.40" font-size="8.0" text-anchor="middle" font-weight="normal" fill="#111" stroke="#111" stroke-width="0.26" >0.01</text>
<line x1="419.30" y1="383.20" x2="419.30" y2="385.80" stroke="#111" stroke-width="0.8" />
<text x="419.30" y="395.40" font-size="8.0" text-anchor="middle" font-weight="normal" fill="#111" stroke="#111" stroke-width="0.26" >0.1</text>
<line x1="473.30" y1="383.20" x2="473.30" y2="385.80" stroke="#111" stroke-width="0.8" />
<text x="473.30" y="395.40" font-size="8.0" text-anchor="middle" font-weight="normal" fill="#111" stroke="#111" stroke-width="0.26" >1</text>
<line x1="321.60" y1="274.13" x2="321.60" y2="267.43" stroke="#222" stroke-width="0.7" />
<line x1="319.80" y1="267.43" x2="323.40" y2="267.43" stroke="#222" stroke-width="0.7" />
<line x1="319.80" y1="274.13" x2="323.40" y2="274.13" stroke="#222" stroke-width="0.7" />
<line x1="347.40" y1="283.30" x2="347.40" y2="274.36" stroke="#222" stroke-width="0.7" />
<line x1="345.60" y1="274.36" x2="349.20" y2="274.36" stroke="#222" stroke-width="0.7" />
<line x1="345.60" y1="283.30" x2="349.20" y2="283.30" stroke="#222" stroke-width="0.7" />
<line x1="373.20" y1="298.27" x2="373.20" y2="291.56" stroke="#222" stroke-width="0.7" />
<line x1="371.40" y1="291.56" x2="375.00" y2="291.56" stroke="#222" stroke-width="0.7" />
<line x1="371.40" y1="298.27" x2="375.00" y2="298.27" stroke="#222" stroke-width="0.7" />
<line x1="399.00" y1="299.50" x2="399.00" y2="295.03" stroke="#222" stroke-width="0.7" />
<line x1="397.20" y1="295.03" x2="400.80" y2="295.03" stroke="#222" stroke-width="0.7" />
<line x1="397.20" y1="299.50" x2="400.80" y2="299.50" stroke="#222" stroke-width="0.7" />
<line x1="424.80" y1="318.72" x2="424.80" y2="315.37" stroke="#222" stroke-width="0.7" />
<line x1="423.00" y1="315.37" x2="426.60" y2="315.37" stroke="#222" stroke-width="0.7" />
<line x1="423.00" y1="318.72" x2="426.60" y2="318.72" stroke="#222" stroke-width="0.7" />
<line x1="450.60" y1="337.05" x2="450.60" y2="334.81" stroke="#222" stroke-width="0.7" />
<line x1="448.80" y1="334.81" x2="452.40" y2="334.81" stroke="#222" stroke-width="0.7" />
<line x1="448.80" y1="337.05" x2="452.40" y2="337.05" stroke="#222" stroke-width="0.7" />
<line x1="476.40" y1="350.79" x2="476.40" y2="348.56" stroke="#222" stroke-width="0.7" />
<line x1="474.60" y1="348.56" x2="478.20" y2="348.56" stroke="#222" stroke-width="0.7" />
<line x1="474.60" y1="350.79" x2="478.20" y2="350.79" stroke="#222" stroke-width="0.7" />
<polyline points="321.6,270.8 347.4,278.8 373.2,294.9 399.0,297.3 424.8,317.0 450.6,335.9 476.4,349.7" fill="none" stroke="#000" stroke-width="1.5" stroke-linejoin="round"/>
<path d="M318.50,270.78 L321.60,267.68 L324.70,270.78 L321.60,273.88 Z" fill="#000"/>
<path d="M344.30,278.83 L347.40,275.73 L350.50,278.83 L347.40,281.93 Z" fill="#000"/>
<path d="M370.10,294.92 L373.20,291.82 L376.30,294.92 L373.20,298.02 Z" fill="#000"/>
<path d="M395.90,297.26 L399.00,294.16 L402.10,297.26 L399.00,300.36 Z" fill="#000"/>
<path d="M421.70,317.04 L424.80,313.94 L427.90,317.04 L424.80,320.14 Z" fill="#000"/>
<path d="M447.50,335.93 L450.60,332.83 L453.70,335.93 L450.60,339.03 Z" fill="#000"/>
<path d="M473.30,349.68 L476.40,346.57 L479.50,349.68 L476.40,352.78 Z" fill="#000"/>
<line x1="321.60" y1="272.79" x2="321.60" y2="260.50" stroke="#222" stroke-width="0.7" />
<line x1="319.80" y1="260.50" x2="323.40" y2="260.50" stroke="#222" stroke-width="0.7" />
<line x1="319.80" y1="272.79" x2="323.40" y2="272.79" stroke="#222" stroke-width="0.7" />
<line x1="347.40" y1="270.67" x2="347.40" y2="266.20" stroke="#222" stroke-width="0.7" />
<line x1="345.60" y1="266.20" x2="349.20" y2="266.20" stroke="#222" stroke-width="0.7" />
<line x1="345.60" y1="270.67" x2="349.20" y2="270.67" stroke="#222" stroke-width="0.7" />
<line x1="373.20" y1="279.83" x2="373.20" y2="276.48" stroke="#222" stroke-width="0.7" />
<line x1="371.40" y1="276.48" x2="375.00" y2="276.48" stroke="#222" stroke-width="0.7" />
<line x1="371.40" y1="279.83" x2="375.00" y2="279.83" stroke="#222" stroke-width="0.7" />
<line x1="399.00" y1="297.71" x2="399.00" y2="293.24" stroke="#222" stroke-width="0.7" />
<line x1="397.20" y1="293.24" x2="400.80" y2="293.24" stroke="#222" stroke-width="0.7" />
<line x1="397.20" y1="297.71" x2="400.80" y2="297.71" stroke="#222" stroke-width="0.7" />
<line x1="424.80" y1="311.01" x2="424.80" y2="307.66" stroke="#222" stroke-width="0.7" />
<line x1="423.00" y1="307.66" x2="426.60" y2="307.66" stroke="#222" stroke-width="0.7" />
<line x1="423.00" y1="311.01" x2="426.60" y2="311.01" stroke="#222" stroke-width="0.7" />
<line x1="450.60" y1="316.82" x2="450.60" y2="314.59" stroke="#222" stroke-width="0.7" />
<line x1="448.80" y1="314.59" x2="452.40" y2="314.59" stroke="#222" stroke-width="0.7" />
<line x1="448.80" y1="316.82" x2="452.40" y2="316.82" stroke="#222" stroke-width="0.7" />
<line x1="476.40" y1="322.74" x2="476.40" y2="320.51" stroke="#222" stroke-width="0.7" />
<line x1="474.60" y1="320.51" x2="478.20" y2="320.51" stroke="#222" stroke-width="0.7" />
<line x1="474.60" y1="322.74" x2="478.20" y2="322.74" stroke="#222" stroke-width="0.7" />
<polyline points="321.6,266.6 347.4,268.4 373.2,278.2 399.0,295.5 424.8,309.3 450.6,315.7 476.4,321.6" fill="none" stroke="#000" stroke-width="1.5" stroke-linejoin="round"/>
<circle cx="321.60" cy="266.64" r="3.05" fill="#fff" stroke="#000" stroke-width="1.1"/>
<circle cx="347.40" cy="268.43" r="3.05" fill="#fff" stroke="#000" stroke-width="1.1"/>
<circle cx="373.20" cy="278.15" r="3.05" fill="#fff" stroke="#000" stroke-width="1.1"/>
<circle cx="399.00" cy="295.48" r="3.05" fill="#fff" stroke="#000" stroke-width="1.1"/>
<circle cx="424.80" cy="309.33" r="3.05" fill="#fff" stroke="#000" stroke-width="1.1"/>
<circle cx="450.60" cy="315.70" r="3.05" fill="#fff" stroke="#000" stroke-width="1.1"/>
<circle cx="476.40" cy="321.63" r="3.05" fill="#fff" stroke="#000" stroke-width="1.1"/>
<line x1="321.60" y1="283.52" x2="321.60" y2="270.56" stroke="#222" stroke-width="0.7" />
<line x1="319.80" y1="270.56" x2="323.40" y2="270.56" stroke="#222" stroke-width="0.7" />
<line x1="319.80" y1="283.52" x2="323.40" y2="283.52" stroke="#222" stroke-width="0.7" />
<line x1="347.40" y1="295.25" x2="347.40" y2="284.08" stroke="#222" stroke-width="0.7" />
<line x1="345.60" y1="284.08" x2="349.20" y2="284.08" stroke="#222" stroke-width="0.7" />
<line x1="345.60" y1="295.25" x2="349.20" y2="295.25" stroke="#222" stroke-width="0.7" />
<line x1="373.20" y1="298.83" x2="373.20" y2="294.36" stroke="#222" stroke-width="0.7" />
<line x1="371.40" y1="294.36" x2="375.00" y2="294.36" stroke="#222" stroke-width="0.7" />
<line x1="371.40" y1="298.83" x2="375.00" y2="298.83" stroke="#222" stroke-width="0.7" />
<line x1="399.00" y1="307.55" x2="399.00" y2="296.37" stroke="#222" stroke-width="0.7" />
<line x1="397.20" y1="296.37" x2="400.80" y2="296.37" stroke="#222" stroke-width="0.7" />
<line x1="397.20" y1="307.55" x2="400.80" y2="307.55" stroke="#222" stroke-width="0.7" />
<line x1="424.80" y1="309.56" x2="424.80" y2="305.09" stroke="#222" stroke-width="0.7" />
<line x1="423.00" y1="305.09" x2="426.60" y2="305.09" stroke="#222" stroke-width="0.7" />
<line x1="423.00" y1="309.56" x2="426.60" y2="309.56" stroke="#222" stroke-width="0.7" />
<line x1="450.60" y1="311.79" x2="450.60" y2="308.44" stroke="#222" stroke-width="0.7" />
<line x1="448.80" y1="308.44" x2="452.40" y2="308.44" stroke="#222" stroke-width="0.7" />
<line x1="448.80" y1="311.79" x2="452.40" y2="311.79" stroke="#222" stroke-width="0.7" />
<line x1="476.40" y1="309.56" x2="476.40" y2="306.20" stroke="#222" stroke-width="0.7" />
<line x1="474.60" y1="306.20" x2="478.20" y2="306.20" stroke="#222" stroke-width="0.7" />
<line x1="474.60" y1="309.56" x2="478.20" y2="309.56" stroke="#222" stroke-width="0.7" />
<polyline points="321.6,277.0 347.4,289.7 373.2,296.6 399.0,302.0 424.8,307.3 450.6,310.1 476.4,307.9" fill="none" stroke="#000" stroke-width="1.5" stroke-linejoin="round"/>
<rect x="318.80" y="274.24" width="5.60" height="5.60" fill="#fff" stroke="#000" stroke-width="1.1" />
<rect x="344.60" y="286.87" width="5.60" height="5.60" fill="#fff" stroke="#000" stroke-width="1.1" />
<rect x="370.40" y="293.79" width="5.60" height="5.60" fill="#fff" stroke="#000" stroke-width="1.1" />
<rect x="396.20" y="299.16" width="5.60" height="5.60" fill="#fff" stroke="#000" stroke-width="1.1" />
<rect x="422.00" y="304.52" width="5.60" height="5.60" fill="#fff" stroke="#000" stroke-width="1.1" />
<rect x="447.80" y="307.32" width="5.60" height="5.60" fill="#fff" stroke="#000" stroke-width="1.1" />
<rect x="473.60" y="305.08" width="5.60" height="5.60" fill="#fff" stroke="#000" stroke-width="1.1" />
<text x="489.00" y="311.70" font-size="9" text-anchor="middle" font-weight="normal" fill="#111" stroke="#111" stroke-width="0.26" >***</text>
<text x="489.00" y="326.70" font-size="9" text-anchor="middle" font-weight="normal" fill="#111" stroke="#111" stroke-width="0.26" >***</text>
<line x1="406.90" y1="250.80" x2="423.10" y2="250.80" stroke="#000" stroke-width="1.5" />
<path d="M411.90,250.80 L415.00,247.70 L418.10,250.80 L415.00,253.90 Z" fill="#000"/>
<text x="424.70" y="253.80" font-size="8.45" text-anchor="start" font-weight="normal" fill="#111" stroke="#111" stroke-width="0.26" >KYSE70</text>
<line x1="406.90" y1="262.60" x2="423.10" y2="262.60" stroke="#000" stroke-width="1.5" />
<circle cx="415.00" cy="262.60" r="3.05" fill="#fff" stroke="#000" stroke-width="1.1"/>
<text x="424.70" y="265.60" font-size="8.45" text-anchor="start" font-weight="normal" fill="#111" stroke="#111" stroke-width="0.26" >KYSE70_YAP1-5SA #1</text>
<line x1="406.90" y1="274.60" x2="423.10" y2="274.60" stroke="#000" stroke-width="1.5" />
<rect x="412.20" y="271.80" width="5.60" height="5.60" fill="#fff" stroke="#000" stroke-width="1.1" />
<text x="424.70" y="277.60" font-size="8.45" text-anchor="start" font-weight="normal" fill="#111" stroke="#111" stroke-width="0.26" >KYSE70_YAP1-5SA #7</text>
<text x="0.00" y="0.00" font-size="9.0" text-anchor="middle" font-weight="normal" fill="#111" stroke="#111" stroke-width="0.26" transform="translate(287.3,322.6) rotate(-90)">Cell viability (%)</text>
<text x="395.00" y="407.00" font-size="9.0" text-anchor="middle" font-weight="normal" fill="#111" stroke="#111" stroke-width="0.26" >CH6953755 (µmol/L)</text>
</svg>
</body></html>
